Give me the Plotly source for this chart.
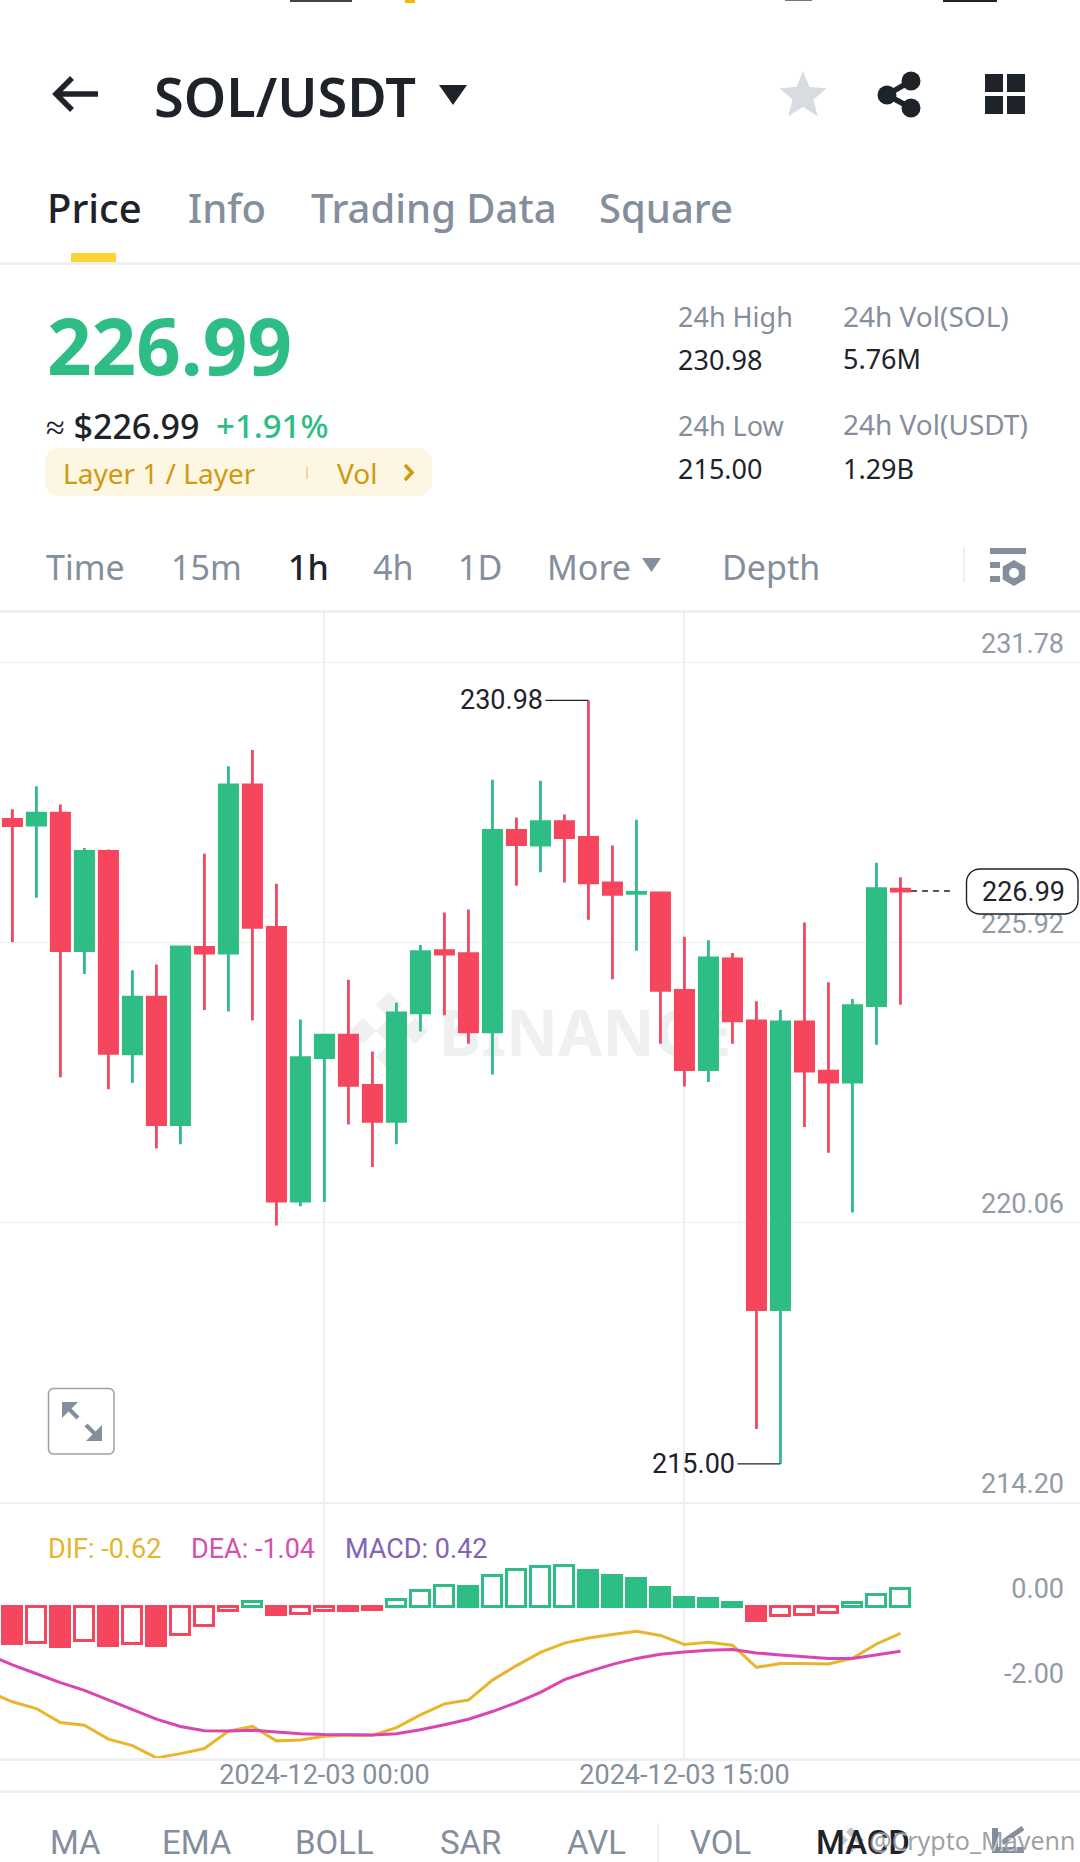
import math
import pandas as pd
import plotly.graph_objects as go

W, H = 1080, 1862
UI = "Noto Sans"
NUM = "Roboto"
GREEN = "#2EBD85"
RED = "#F6465D"
DARK = "#1E2329"
GREY = "#848E9C"
AXIS = "#929AA5"
GRID = "#EDEFF2"

# hourly candles, the 00:00 one is the 14th
opens = [228.49, 228.37, 228.62, 225.74, 227.82, 223.58, 224.77, 222.10, 225.81, 225.69,
         229.21, 226.23, 220.50, 223.50, 223.97, 222.92, 222.17, 224.44, 225.74, 225.68,
         224.04, 228.26, 227.95, 228.44, 228.11, 227.16, 226.94, 226.95, 224.91, 223.25,
         225.57, 224.27, 218.23, 224.25, 223.22, 222.99, 224.59, 227.03]
highs = [228.70, 229.18, 228.80, 227.89, 227.86, 225.33, 225.45, 225.82, 227.77, 229.60,
         229.94, 227.14, 224.30, 223.97, 225.13, 223.63, 224.65, 225.86, 226.54, 226.60,
         229.32, 228.53, 229.30, 228.59, 230.98, 227.94, 228.48, 226.95, 226.03, 225.96,
         225.69, 224.68, 224.50, 226.33, 225.08, 224.73, 227.58, 227.28]
lows = [225.92, 226.85, 223.09, 225.25, 222.84, 222.97, 221.60, 221.69, 224.50, 224.47,
        224.28, 219.99, 220.39, 220.48, 222.10, 221.21, 221.69, 224.05, 224.39, 223.79,
        223.15, 227.10, 227.38, 227.17, 226.39, 225.14, 225.74, 223.79, 222.90, 222.99,
        223.79, 215.73, 215.00, 222.05, 221.51, 220.26, 223.77, 224.61]
closes = [228.36, 228.62, 225.74, 227.82, 223.59, 224.77, 222.10, 225.82, 225.69, 229.21,
          226.23, 220.50, 223.50, 223.97, 222.92, 222.17, 224.44, 225.72, 225.67, 224.04,
          228.26, 227.96, 228.44, 228.11, 227.16, 226.92, 226.96, 224.91, 223.25, 225.59,
          224.27, 218.23, 224.25, 223.22, 222.99, 224.59, 227.04, 226.99]

macd = [-0.88, -0.85, -0.93, -0.81, -0.91, -0.87, -0.91, -0.66, -0.44, -0.09,
        0.11, -0.19, -0.16, -0.09, -0.09, -0.06, 0.16, 0.38, 0.50, 0.47,
        0.73, 0.87, 0.95, 0.96, 0.85, 0.74, 0.66, 0.45, 0.20, 0.19,
        0.09, -0.34, -0.22, -0.19, -0.15, 0.10, 0.29, 0.42]
# the two lines start one hour earlier, they run off the left edge
dif = [-1.99, -2.23, -2.39, -2.72, -2.78, -3.11, -3.26, -3.55, -3.45, -3.33,
       -2.92, -2.81, -3.15, -3.13, -3.04, -3.01, -3.02, -2.84, -2.54, -2.28,
       -2.19, -1.72, -1.38, -1.07, -0.85, -0.73, -0.65, -0.57, -0.67, -0.88,
       -0.83, -0.90, -1.42, -1.33, -1.33, -1.34, -1.21, -0.87, -0.62]
dea = [-1.13, -1.36, -1.57, -1.78, -1.96, -2.19, -2.41, -2.64, -2.81, -2.91,
       -2.92, -2.90, -2.94, -2.98, -3.00, -3.01, -3.01, -2.98, -2.89, -2.77,
       -2.64, -2.46, -2.25, -2.01, -1.71, -1.52, -1.35, -1.21, -1.11, -1.06,
       -1.02, -1.00, -1.08, -1.13, -1.17, -1.21, -1.21, -1.13, -1.04]

price_ticks = [231.78, 225.92, 220.06, 214.20]
macd_ticks = [0.00, -2.00]
macd_tick_labels = ["0.00", "-2.00"]
time_ticks = ["2024-12-03 00:00", "2024-12-03 15:00"]

times = pd.date_range("2024-12-02 11:00", periods=len(opens), freq="h")
line_times = pd.date_range("2024-12-02 10:00", periods=len(dif), freq="h")
x_left = times[0] - pd.Timedelta(hours=0.517)
x_right = times[0] + pd.Timedelta(hours=44.48)

def py(y):
    return 1 - y / H

def px(x):
    return x / W

fig = go.Figure()

#%% candles and MACD
fig.add_trace(go.Candlestick(
    x=times, open=opens, high=highs, low=lows, close=closes,
    increasing=dict(line=dict(color=GREEN, width=2.8), fillcolor=GREEN),
    decreasing=dict(line=dict(color=RED, width=2.8), fillcolor=RED),
    whiskerwidth=0, xaxis="x2", yaxis="y", showlegend=False))

bar_color = [GREEN if v >= 0 else RED for v in macd]
# hollow when the histogram is rising
bar_fill = []
for i, v in enumerate(macd):
    if i > 0 and v > macd[i - 1]:
        bar_fill.append("white")
    else:
        bar_fill.append(bar_color[i])
fig.add_trace(go.Bar(
    x=times, y=macd, width=0.81 * 3600000,
    marker=dict(color=bar_fill, line=dict(color=bar_color, width=3)),
    xaxis="x", yaxis="y2", showlegend=False))
fig.add_trace(go.Scatter(x=line_times, y=dif, mode="lines", line=dict(color="#E9B52B", width=3),
                         xaxis="x", yaxis="y2", showlegend=False))
fig.add_trace(go.Scatter(x=line_times, y=dea, mode="lines", line=dict(color="#D946B0", width=3),
                         xaxis="x", yaxis="y2", showlegend=False))

fig.update_layout(
    width=W, height=H, margin=dict(l=0, r=0, t=0, b=0),
    paper_bgcolor="white", plot_bgcolor="rgba(0,0,0,0)", showlegend=False,
    boxgap=0.24, boxgroupgap=0, bargap=0,
    xaxis=dict(domain=[0, 1], anchor="y2", type="date", range=[x_left, x_right],
               tickvals=time_ticks, tickformat="%Y-%m-%d %H:%M", ticklen=0,
               ticklabelstandoff=-9,
               tickfont=dict(family=NUM, size=27, color=GREY),
               showgrid=True, gridcolor=GRID, gridwidth=1.5, zeroline=False,
               showline=True, linecolor=GRID, linewidth=3),
    xaxis2=dict(domain=[0, 1], anchor="y", matches="x", type="date",
                tickvals=time_ticks, showticklabels=False, ticklen=0,
                rangeslider=dict(visible=False),
                showgrid=True, gridcolor=GRID, gridwidth=1.5, zeroline=False,
                showline=True, linecolor=GRID, linewidth=2),
    yaxis=dict(domain=[py(1502), py(612)], range=[214.20, 232.83], side="right", anchor="x2",
               tickvals=price_ticks, tickformat=".2f", ticklabelposition="inside top",
               ticklabelstandoff=13, ticklen=0,
               tickfont=dict(family=NUM, size=27, color=AXIS),
               showgrid=True, gridcolor=GRID, gridwidth=1.2, zeroline=False),
    yaxis2=dict(domain=[py(1758), py(1502)], range=[-3.553, 2.47], side="right", anchor="x",
                tickvals=macd_ticks, ticktext=macd_tick_labels, ticklabelposition="inside top",
                ticklabelstandoff=13, ticklen=0,
                tickfont=dict(family=NUM, size=27, color=AXIS),
                showgrid=False, zeroline=False),
)

#%% helpers for the app chrome around the chart
def txt(x, y, s, size, color, anchor="left", weight=400, family=UI, **font_extra):
    fig.add_annotation(xref="paper", yref="paper", x=px(x), y=py(y), text=s, showarrow=False,
                       xanchor=anchor, yanchor="middle", borderpad=0,
                       font=dict(family=family, size=size, color=color, weight=weight, **font_extra))

def poly(points, fill=None, line=None, width=0, closed=True, layer="above"):
    d = "M " + " L ".join(f"{px(a):.5f},{py(b):.5f}" for a, b in points)
    if closed:
        d += " Z"
    fig.add_shape(type="path", xref="paper", yref="paper", path=d, layer=layer,
                  fillcolor=fill if fill else "rgba(0,0,0,0)",
                  line=dict(color=line if line else "rgba(0,0,0,0)", width=width))

def rect(x0, y0, x1, y1, fill):
    fig.add_shape(type="rect", xref="paper", yref="paper", x0=px(x0), x1=px(x1), y0=py(y0), y1=py(y1),
                  fillcolor=fill, line=dict(width=0))

def circle(cx, cy, r, fill):
    fig.add_shape(type="circle", xref="paper", yref="paper", x0=px(cx - r), x1=px(cx + r),
                  y0=py(cy - r), y1=py(cy + r), fillcolor=fill, line=dict(width=0))

def round_box(x0, y0, x1, y1, r, fill, line=None, width=0):
    pts = []
    for cx, cy, start in [(x1 - r, y0 + r, -90), (x1 - r, y1 - r, 0), (x0 + r, y1 - r, 90), (x0 + r, y0 + r, 180)]:
        for k in range(7):
            a = math.radians(start + 15 * k)
            pts.append((cx + r * math.cos(a), cy + r * math.sin(a)))
    poly(pts, fill=fill, line=line, width=width)

# status bar leftovers at the very top
rect(943, 0, 997, 2, DARK)
rect(290, 0, 352, 2, "#444444")
rect(405, 0, 415, 3, "#F0B90B")
rect(785, 0, 812, 1, "#777777")

# header
poly([(56, 94), (98, 94)], line=DARK, width=5.5, closed=False)
poly([(72, 78), (56, 94), (72, 110)], line=DARK, width=5.5, closed=False)
txt(153, 96, "SOL/USDT", 54, DARK, weight=600)
poly([(439, 85), (467, 85), (453, 105)], fill=DARK)
star = []
for k in range(10):
    r = 25 if k % 2 == 0 else 11
    a = math.radians(-90 + 36 * k)
    star.append((803 + r * math.cos(a), 96 + r * math.sin(a)))
poly(star, fill="#D8DCE1")
poly([(911, 81), (887, 95), (911, 108)], line=DARK, width=5.5, closed=False)
for cx, cy in [(911, 81), (887, 95), (911, 108)]:
    circle(cx, cy, 9.5, DARK)
for a, b in [(985, 74), (1007, 74), (985, 96), (1007, 96)]:
    rect(a, b, a + 18, b + 18, DARK)

# tabs
txt(46, 208, "Price", 40, DARK, weight=500)
txt(187, 208, "Info", 40, GREY, weight=500)
txt(310, 208, "Trading Data", 40, GREY, weight=500)
txt(598, 208, "Square", 40, GREY, weight=500)
rect(71, 253, 116, 262, "#FCD535")
rect(0, 262, W, 265, GRID)

# price block
txt(46, 345, "226.99", 78, GREEN, weight=700)
txt(45, 426, "≈ $226.99", 34, DARK, weight=500)
txt(215, 426, "+1.91%", 33, GREEN, weight=500)
round_box(45, 448, 432, 496, 14, "#FDF6E3")
txt(62, 473, "Layer 1 / Layer", 28, "#CF9A0E")
rect(306, 467, 308, 479, "#EFD99A")
txt(336, 473, "Vol", 28, "#CF9A0E")
poly([(405, 465), (412, 472.5), (405, 480)], line="#CF9A0E", width=3.5, closed=False)

# 24h stats
txt(677, 317, "24h High", 27, GREY)
txt(677, 360, "230.98", 27, DARK)
txt(842, 316, "24h Vol(SOL)", 28, GREY)
txt(842, 358, "5.76M", 27, DARK)
txt(677, 426, "24h Low", 27, GREY)
txt(677, 469, "215.00", 27, DARK)
txt(842, 424, "24h Vol(USDT)", 28, GREY)
txt(842, 468, "1.29B", 27, DARK)

# interval row
for label, x, col, wt in [("Time", 45, GREY, 400), ("15m", 170, GREY, 400), ("1h", 287, DARK, 500),
                          ("4h", 372, GREY, 400), ("1D", 457, GREY, 400), ("More", 546, GREY, 400),
                          ("Depth", 721, GREY, 400)]:
    txt(x, 567, label, 34, col, weight=wt)
poly([(642, 558), (661, 558), (651.5, 572)], fill=GREY)
rect(963, 547, 965, 582, GRID)
rect(990, 548, 1026, 554, GREY)
rect(990, 562, 1000, 568, GREY)
rect(990, 576, 1000, 582, GREY)
hexa = [(1014 + 13 * math.cos(math.radians(30 + 60 * k)), 573 + 13 * math.sin(math.radians(30 + 60 * k))) for k in range(6)]
poly(hexa, fill=GREY)
circle(1014, 573, 5, "white")

rect(0, 610, W, 613, GRID)
rect(0, 1790, W, 1793, GRID)

# watermark goes under the candles
fig.add_shape(type="rect", xref="paper", yref="paper", x0=px(440), x1=px(730), y0=py(1070), y1=py(1000),
              layer="below", fillcolor="rgba(0,0,0,0)", line=dict(width=0),
              label=dict(text="BINANCE", textposition="middle center",
                         font=dict(family=UI, size=64, color="#EFF1F1", weight=700)))
for dx, dy in [(0, -26), (-26, 0), (26, 0), (0, 26), (0, 0)]:
    poly([(389 + dx, 1031 + dy - 13), (389 + dx + 13, 1031 + dy), (389 + dx, 1031 + dy + 13), (389 + dx - 13, 1031 + dy)],
         fill="#EFF1F1", layer="below")

# expand button
round_box(48.5, 1388.5, 114, 1454, 5, "white", line="#9AA1AB", width=1.5)
poly([(65, 1405), (78, 1418)], line=GREY, width=4, closed=False)
poly([(62, 1402), (78, 1402), (62, 1418)], fill=GREY)
poly([(86, 1425), (99, 1438)], line=GREY, width=4, closed=False)
poly([(102, 1441), (102, 1425), (86, 1441)], fill=GREY)

# high / low callouts on the price axis
fig.add_annotation(x=times[highs.index(max(highs))], y=max(highs), xref="x2", yref="y", text="230.98",
                   showarrow=True, arrowhead=0, arrowwidth=1.2, arrowcolor=DARK, ax=-43, ay=0, xanchor="right",
                   font=dict(family=NUM, size=27, color=DARK))
fig.add_annotation(x=times[lows.index(min(lows))], y=min(lows), xref="x2", yref="y", text="215.00",
                   showarrow=True, arrowhead=0, arrowwidth=1.2, arrowcolor=DARK, ax=-43, ay=0, xanchor="right",
                   font=dict(family=NUM, size=27, color=DARK))

# last price tag
fig.add_shape(type="line", xref="paper", yref="y", x0=px(911), x1=px(955), y0=closes[-1], y1=closes[-1],
              line=dict(color=DARK, width=1.5, dash="6px,5px"))
round_box(966.5, 869, 1078, 914, 13, "white", line=DARK, width=1.4)
txt(1066, 891.5, "226.99", 27, DARK, anchor="right", family=NUM)

# MACD legend
txt(47, 1549, "DIF: -0.62", 27, "#E5B52C", family=NUM)
txt(190, 1549, "DEA: -1.04", 27, "#D64FAE", family=NUM)
txt(344, 1549, "MACD: 0.42", 27, "#8264B4", family=NUM)

# indicator row
for label, x in [("MA", 49), ("EMA", 161), ("BOLL", 294), ("SAR", 439), ("AVL", 566), ("VOL", 689)]:
    txt(x, 1842, label, 33, GREY, family=NUM)
txt(815, 1842, "MACD", 33, DARK, weight=500, family=NUM)
rect(657, 1823, 659, H, GRID)
poly([(995, 1828), (995, 1850), (1024, 1850)], line=GREY, width=6, closed=False)
poly([(1002, 1843), (1010, 1837), (1023, 1828)], line=GREY, width=5, closed=False)
txt(868, 1840, "@Crypto_Mavenn", 25, "rgba(125,130,138,0.75)", family=UI, shadow="1px 1px 1px white")
for dx, dy in [(0, -8), (-8, 0), (8, 0), (0, 8)]:
    poly([(851 + dx, 1840 + dy - 5), (851 + dx + 5, 1840 + dy), (851 + dx, 1840 + dy + 5), (851 + dx - 5, 1840 + dy)],
         fill="rgba(170,175,180,0.7)")

fig.write_html("out.html", config={"displayModeBar": False}, post_script="document.body.style.margin='0';")
